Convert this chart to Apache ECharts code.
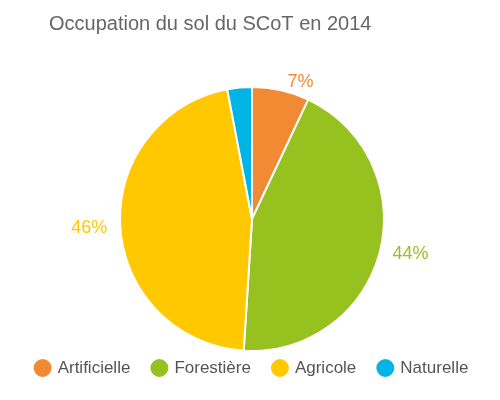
<!DOCTYPE html>
<html><head><meta charset="utf-8">
<script src="https://cdn.jsdelivr.net/npm/echarts@6/dist/echarts.min.js"></script>
<style>html,body{margin:0;padding:0;background:#fff}#c{width:500px;height:400px}</style>
</head><body><div id="c"></div>
<script>
const categories = ['Artificielle','Forestière','Agricole','Naturelle'];
const values = [7,44,46,3];
const colors = ['#F28A33','#96C11F','#FFC800','#00B5E5'];
const chart = echarts.init(document.getElementById('c'));
chart.setOption({
  animation:false,
  title:{text:'Occupation du sol du SCoT en 2014',left:44,top:9,textStyle:{fontFamily:'Liberation Sans',fontSize:20,fontWeight:'normal',color:'#666'}},
  legend:{bottom:16,left:'center',icon:'circle',itemWidth:20,itemHeight:20,itemGap:18,textStyle:{fontFamily:'Liberation Sans',fontSize:17,color:'#555'},data:categories},
  series:[{type:'pie',center:[252,219],radius:[0,132],startAngle:90,clockwise:true,
    itemStyle:{borderColor:'#fff',borderWidth:2},
    label:{show:true,position:'outside',formatter:'{d}%',fontFamily:'Liberation Sans',fontSize:18,color:'inherit'},
    labelLine:{show:false,length:8,length2:0},
    data:categories.map((n,i)=>({name:n,value:values[i],itemStyle:{color:colors[i]},label:{color:colors[i],show:i!==3}}))
  }]
});
</script></body></html>
